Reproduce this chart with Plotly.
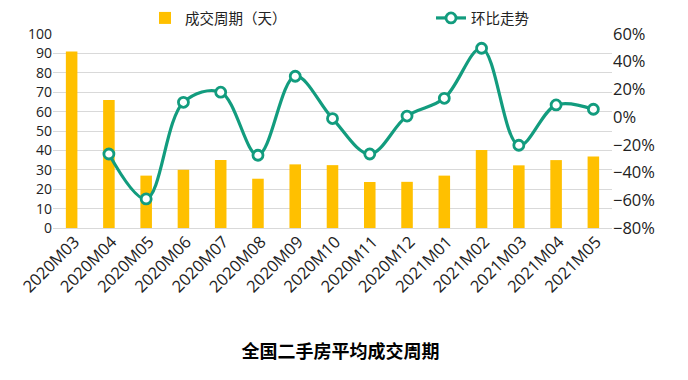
import plotly.graph_objects as go

months = ["2020M03", "2020M04", "2020M05", "2020M06", "2020M07", "2020M08", "2020M09",
          "2020M10", "2020M11", "2020M12", "2021M01", "2021M02", "2021M03", "2021M04", "2021M05"]
cycle_days = [91, 66, 27, 30, 35, 25.4, 32.8, 32.4, 23.7, 23.8, 27, 40.2, 32.3, 35, 36.8]
mom_change = [None, -26.6, -59, 10.7, 18, -27.5, 29.5, -1, -26.6, 0.8, 13.6, 49.7, -20.3, 8.8, 5.7]

num_font = "Open Sans, Noto Sans, sans-serif"
cjk_font = "Noto Sans CJK SC, Noto Sans, sans-serif"
bar_color = "#FFC000"
line_color = "#129C7E"

W, H = 672, 364
L, T, PW, PH = 45, 26, 559, 194

fig = go.Figure()
fig.add_trace(go.Bar(
    x=months, y=cycle_days, name="成交周期（天）",
    marker=dict(color=bar_color, line=dict(width=0)),
    width=0.31, yaxis="y", legend="legend",
))
fig.add_trace(go.Scatter(
    x=months, y=mom_change, name="环比走势", yaxis="y2", legend="legend2",
    mode="lines+markers",
    line=dict(color=line_color, width=3.2, shape="spline", smoothing=1.0),
    marker=dict(size=10, color="white", line=dict(color=line_color, width=2.8)),
))

leg_common = dict(orientation="h", xanchor="left", yref="paper",
                  y=1 + (T - 10) / PH, yanchor="middle",
                  font=dict(family=cjk_font, size=14.5, color="#222"), itemwidth=30,
                  bgcolor="rgba(0,0,0,0)")

tick_font = dict(family=num_font, size=16.5, color="#222")
left_tick_font = dict(family=num_font, size=14, color="#222")

fig.update_layout(
    width=W, height=H,
    margin=dict(l=L, r=W - L - PW, t=T, b=H - T - PH, autoexpand=False),
    paper_bgcolor="white", plot_bgcolor="white",
    font=dict(family=num_font, size=15, color="#222"),
    showlegend=True,
    legend=dict(x=(137 - L) / PW, **leg_common),
    legend2=dict(x=(423 - L) / PW, **leg_common),
    xaxis=dict(type="category", range=[-0.5, len(months) - 0.5], autorange=False,
               tickangle=-45, tickfont=tick_font, ticklabelshift=3,
               showgrid=False, showline=False, ticks="", automargin=False),
    yaxis=dict(range=[0, 100], dtick=10, showgrid=True, gridcolor="#D9D9D9", gridwidth=1,
               zeroline=True, zerolinecolor="#D9D9D9", zerolinewidth=1,
               tickfont=left_tick_font, ticks="", showline=False,
               automargin=False),
    yaxis2=dict(range=[-80, 60], dtick=20, overlaying="y", side="right", showgrid=False,
                zeroline=False, ticksuffix="%", tickfont=tick_font,
                ticks="", automargin=False),
    title=dict(text="<b>全国二手房平均成交周期</b>", x=(340.5 - 8) / W, xanchor="center",
               y=1 - 344 / H, yanchor="middle",
               font=dict(family=cjk_font, size=18, color="#000")),
)

fig.write_html("out.html")
